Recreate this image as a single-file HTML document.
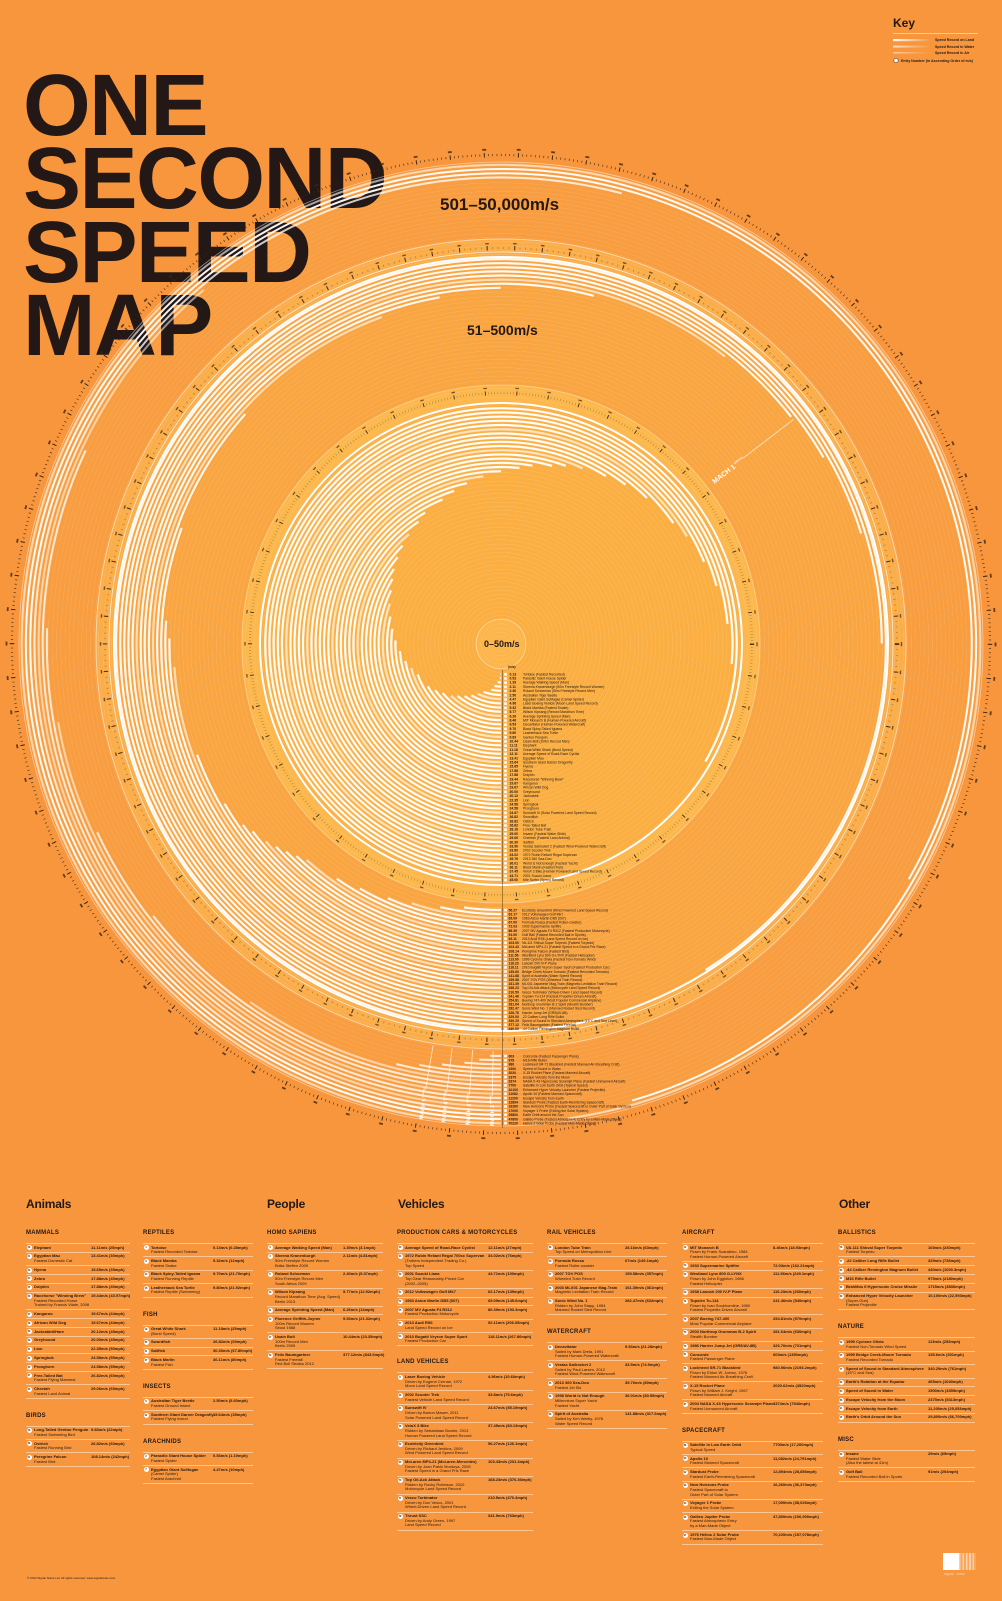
<!DOCTYPE html>
<html><head><meta charset="utf-8">
<style>
body{margin:0;width:1002px;height:1601px;background:#F7963D;position:relative;overflow:hidden;font-family:"Liberation Sans",Arial,sans-serif;color:#231815}
svg{position:absolute;left:0;top:0}
.H{position:absolute;top:1198px;font-weight:bold;font-size:12px;line-height:12px;letter-spacing:-0.2px}
.col{position:absolute;top:1228px}
.h2{font-weight:bold;font-size:6px;line-height:10px;height:10px;margin-bottom:5px;letter-spacing:0.25px;white-space:nowrap}
.m{margin-top:12px}
.sec{border-bottom:0.7px solid rgba(255,255,255,.45)}
.r{position:relative;border-top:0.7px solid rgba(255,255,255,.45);font-size:4px;line-height:4.6px;padding:1.6px 40px 1.6px 8px;white-space:nowrap}
.r i{position:absolute;left:0.5px;top:1.4px;width:5px;height:5px;border-radius:50%;background:#fff;font-style:normal;font-weight:bold;font-size:2.4px;line-height:5px;text-align:center;color:#231815}
.r b{display:block}
.r em{position:absolute;top:1.6px;font-style:normal;font-weight:bold}
.a1{left:26px;width:104px}.a1 em{left:65px}
.a2{left:143px;width:110px}.a2 em{left:70px}
.pp{left:267px;width:116px}.pp em{left:76px}
.v1{left:397px;width:136px}.v1 em{left:91px}
.v2{left:547px;width:120px}.v2 em{left:78px}
.v3{left:682px;width:141px}.v3 em{left:91px}
.oo{left:838px;width:137px}.oo em{left:90px}
.kt{position:absolute;left:935px;font-size:3.6px;font-weight:bold;line-height:4px;white-space:nowrap}
</style></head><body>

<svg width="1002" height="1601" viewBox="0 0 1002 1601">
<defs>
<radialGradient id="fl" gradientUnits="userSpaceOnUse" cx="501" cy="644" r="4.2" spreadMethod="repeat">
<stop offset="0" stop-color="#fff" stop-opacity="0"/>
<stop offset="0.72" stop-color="#fff" stop-opacity="0"/>
<stop offset="0.8" stop-color="#fff" stop-opacity="0.22"/>
<stop offset="0.88" stop-color="#fff" stop-opacity="0"/>
<stop offset="1" stop-color="#fff" stop-opacity="0"/>
</radialGradient>
<linearGradient id="kg" x1="0" x2="1" y1="0" y2="0"><stop offset="0" stop-color="#fff"/><stop offset="1" stop-color="#fff" stop-opacity="0"/></linearGradient>
</defs>

<g transform="translate(501 644)">
<circle r="481" fill="#F89D40"/>
<circle r="405" fill="#FAAD48"/>
<circle r="388" fill="#F9A542"/>
<circle r="259" fill="#FCB84C"/>
<circle r="243" fill="#FBAF43"/>
<circle r="25" fill="#FCB64B"/>
</g>
<circle cx="501" cy="644" r="480" fill="url(#fl)"/>

<g font-family="Liberation Sans, Arial, sans-serif" font-weight="bold" font-size="87" letter-spacing="-1.5" fill="#231815">
<text x="23" y="135">ONE</text>
<text x="23" y="208">SECOND</text>
<text x="23" y="282">SPEED</text>
<text x="23" y="355">MAP</text>
</g>

<!-- structural white circles -->
<g transform="translate(501 644)" fill="none" stroke="#fff">
<circle r="241" stroke-width="2"/>
<circle r="387" stroke-width="2"/>
<circle r="392" stroke-width="0.8" opacity=".8"/>
<circle r="405" stroke-width="1" opacity=".55"/>
<circle r="482" stroke-width="0.8" opacity=".5"/>
<circle r="25" stroke-width="0.6" opacity=".6"/>
<circle r="259" stroke-width="0.6" opacity=".5"/>
</g>

<!-- inner arcs: start at 6 o'clock, clockwise -->
<g transform="translate(501 644)" fill="none" stroke="#fff" stroke-width="2.2" stroke-opacity=".95">
<path pathLength="360" stroke-dasharray="1 999" d="M0 30A30 30 0 1 1 0 -30A30 30 0 1 1 0 30"/>
<path pathLength="360" stroke-dasharray="2 999" d="M0 34.2A34.2 34.2 0 1 1 0 -34.2A34.2 34.2 0 1 1 0 34.2"/>
<path pathLength="360" stroke-dasharray="5 999" d="M0 38.4A38.4 38.4 0 1 1 0 -38.4A38.4 38.4 0 1 1 0 38.4"/>
<path pathLength="360" stroke-dasharray="9 999" d="M0 42.6A42.6 42.6 0 1 1 0 -42.6A42.6 42.6 0 1 1 0 42.6"/>
<path pathLength="360" stroke-dasharray="12 999" d="M0 46.8A46.8 46.8 0 1 1 0 -46.8A46.8 46.8 0 1 1 0 46.8"/>
<path pathLength="360" stroke-dasharray="20 999" d="M0 51A51 51 0 1 1 0 -51A51 51 0 1 1 0 51"/>
<path pathLength="360" stroke-dasharray="25 999" stroke-opacity=".65" d="M0 55.2A55.2 55.2 0 1 1 0 -55.2A55.2 55.2 0 1 1 0 55.2"/>
<path pathLength="360" stroke-dasharray="30 999" d="M0 59.4A59.4 59.4 0 1 1 0 -59.4A59.4 59.4 0 1 1 0 59.4"/>
<path pathLength="360" stroke-dasharray="35 999" d="M0 63.6A63.6 63.6 0 1 1 0 -63.6A63.6 63.6 0 1 1 0 63.6"/>
<path pathLength="360" stroke-dasharray="40 999" d="M0 67.8A67.8 67.8 0 1 1 0 -67.8A67.8 67.8 0 1 1 0 67.8"/>
<path pathLength="360" stroke-dasharray="44 999" stroke-opacity=".65" d="M0 72A72 72 0 1 1 0 -72A72 72 0 1 1 0 72"/>
<path pathLength="360" stroke-dasharray="50 999" d="M0 76.2A76.2 76.2 0 1 1 0 -76.2A76.2 76.2 0 1 1 0 76.2"/>
<path pathLength="360" stroke-dasharray="55 999" d="M0 80.4A80.4 80.4 0 1 1 0 -80.4A80.4 80.4 0 1 1 0 80.4"/>
<path pathLength="360" stroke-dasharray="60 999" d="M0 84.6A84.6 84.6 0 1 1 0 -84.6A84.6 84.6 0 1 1 0 84.6"/>
<path pathLength="360" stroke-dasharray="70 999" d="M0 88.8A88.8 88.8 0 1 1 0 -88.8A88.8 88.8 0 1 1 0 88.8"/>
<path pathLength="360" stroke-dasharray="75 999" stroke-opacity=".65" d="M0 93A93 93 0 1 1 0 -93A93 93 0 1 1 0 93"/>
<path pathLength="360" stroke-dasharray="80 999" d="M0 97.2A97.2 97.2 0 1 1 0 -97.2A97.2 97.2 0 1 1 0 97.2"/>
<path pathLength="360" stroke-dasharray="86 999" d="M0 101.4A101.4 101.4 0 1 1 0 -101.4A101.4 101.4 0 1 1 0 101.4"/>
<path pathLength="360" stroke-dasharray="92 999" d="M0 105.6A105.6 105.6 0 1 1 0 -105.6A105.6 105.6 0 1 1 0 105.6"/>
<path pathLength="360" stroke-dasharray="98 999" d="M0 109.8A109.8 109.8 0 1 1 0 -109.8A109.8 109.8 0 1 1 0 109.8"/>
<path pathLength="360" stroke-dasharray="104 999" d="M0 114A114 114 0 1 1 0 -114A114 114 0 1 1 0 114"/>
<path pathLength="360" stroke-dasharray="110 999" stroke-opacity=".65" d="M0 118.2A118.2 118.2 0 1 1 0 -118.2A118.2 118.2 0 1 1 0 118.2"/>
<path pathLength="360" stroke-dasharray="116 999" d="M0 122.4A122.4 122.4 0 1 1 0 -122.4A122.4 122.4 0 1 1 0 122.4"/>
<path pathLength="360" stroke-dasharray="121 999" d="M0 126.6A126.6 126.6 0 1 1 0 -126.6A126.6 126.6 0 1 1 0 126.6"/>
<path pathLength="360" stroke-dasharray="125 999" d="M0 130.8A130.8 130.8 0 1 1 0 -130.8A130.8 130.8 0 1 1 0 130.8"/>
<path pathLength="360" stroke-dasharray="130 999" d="M0 135A135 135 0 1 1 0 -135A135 135 0 1 1 0 135"/>
<path pathLength="360" stroke-dasharray="135 999" d="M0 139.2A139.2 139.2 0 1 1 0 -139.2A139.2 139.2 0 1 1 0 139.2"/>
<path pathLength="360" stroke-dasharray="140 999" stroke-opacity=".65" d="M0 143.4A143.4 143.4 0 1 1 0 -143.4A143.4 143.4 0 1 1 0 143.4"/>
<path pathLength="360" stroke-dasharray="146 999" d="M0 147.6A147.6 147.6 0 1 1 0 -147.6A147.6 147.6 0 1 1 0 147.6"/>
<path pathLength="360" stroke-dasharray="150 999" d="M0 151.8A151.8 151.8 0 1 1 0 -151.8A151.8 151.8 0 1 1 0 151.8"/>
<path pathLength="360" stroke-dasharray="158 999" d="M0 156A156 156 0 1 1 0 -156A156 156 0 1 1 0 156"/>
<path pathLength="360" stroke-dasharray="163 999" d="M0 160.2A160.2 160.2 0 1 1 0 -160.2A160.2 160.2 0 1 1 0 160.2"/>
<path pathLength="360" stroke-dasharray="168 999" d="M0 164.4A164.4 164.4 0 1 1 0 -164.4A164.4 164.4 0 1 1 0 164.4"/>
<path pathLength="360" stroke-dasharray="174 999" stroke-opacity=".65" d="M0 168.6A168.6 168.6 0 1 1 0 -168.6A168.6 168.6 0 1 1 0 168.6"/>
<path pathLength="360" stroke-dasharray="180 999" d="M0 172.8A172.8 172.8 0 1 1 0 -172.8A172.8 172.8 0 1 1 0 172.8"/>
<path pathLength="360" stroke-dasharray="186 999" d="M0 177A177 177 0 1 1 0 -177A177 177 0 1 1 0 177"/>
<path pathLength="360" stroke-dasharray="190 999" d="M0 181.2A181.2 181.2 0 1 1 0 -181.2A181.2 181.2 0 1 1 0 181.2"/>
<path pathLength="360" stroke-dasharray="196 999" d="M0 185.4A185.4 185.4 0 1 1 0 -185.4A185.4 185.4 0 1 1 0 185.4"/>
<path pathLength="360" stroke-dasharray="200 999" d="M0 189.6A189.6 189.6 0 1 1 0 -189.6A189.6 189.6 0 1 1 0 189.6"/>
<path pathLength="360" stroke-dasharray="205 999" stroke-opacity=".65" d="M0 193.8A193.8 193.8 0 1 1 0 -193.8A193.8 193.8 0 1 1 0 193.8"/>
<path pathLength="360" stroke-dasharray="212 999" d="M0 198A198 198 0 1 1 0 -198A198 198 0 1 1 0 198"/>
<path pathLength="360" stroke-dasharray="218 999" d="M0 202.2A202.2 202.2 0 1 1 0 -202.2A202.2 202.2 0 1 1 0 202.2"/>
<path pathLength="360" stroke-dasharray="225 999" d="M0 206.4A206.4 206.4 0 1 1 0 -206.4A206.4 206.4 0 1 1 0 206.4"/>
<path pathLength="360" stroke-dasharray="235 999" d="M0 210.6A210.6 210.6 0 1 1 0 -210.6A210.6 210.6 0 1 1 0 210.6"/>
<path pathLength="360" stroke-dasharray="240 999" stroke-opacity=".65" d="M0 214.8A214.8 214.8 0 1 1 0 -214.8A214.8 214.8 0 1 1 0 214.8"/>
<path pathLength="360" stroke-dasharray="248 999" d="M0 219A219 219 0 1 1 0 -219A219 219 0 1 1 0 219"/>
<path pathLength="360" stroke-dasharray="255 999" d="M0 223.2A223.2 223.2 0 1 1 0 -223.2A223.2 223.2 0 1 1 0 223.2"/>
<path pathLength="360" stroke-dasharray="265 999" d="M0 227.4A227.4 227.4 0 1 1 0 -227.4A227.4 227.4 0 1 1 0 227.4"/>
<path pathLength="360" stroke-dasharray="275 999" d="M0 231.6A231.6 231.6 0 1 1 0 -231.6A231.6 231.6 0 1 1 0 231.6"/>
<path pathLength="360" stroke-dasharray="300 999" d="M0 235.8A235.8 235.8 0 1 1 0 -235.8A235.8 235.8 0 1 1 0 235.8"/>
</g>

<!-- middle arcs -->
<g transform="translate(501 644)" fill="none" stroke="#fff" stroke-width="2.2" stroke-opacity=".92">
<path pathLength="360" stroke-dasharray="8 999" d="M0 266A266 266 0 1 1 0 -266A266 266 0 1 1 0 266"/>
<path pathLength="360" stroke-dasharray="13 999" d="M0 270.1A270.1 270.1 0 1 1 0 -270.1A270.1 270.1 0 1 1 0 270.1"/>
<path pathLength="360" stroke-dasharray="19 999" stroke-opacity=".6" d="M0 274.2A274.2 274.2 0 1 1 0 -274.2A274.2 274.2 0 1 1 0 274.2"/>
<path pathLength="360" stroke-dasharray="24 999" d="M0 278.3A278.3 278.3 0 1 1 0 -278.3A278.3 278.3 0 1 1 0 278.3"/>
<path pathLength="360" stroke-dasharray="30 999" d="M0 282.4A282.4 282.4 0 1 1 0 -282.4A282.4 282.4 0 1 1 0 282.4"/>
<path pathLength="360" stroke-dasharray="35 999" d="M0 286.5A286.5 286.5 0 1 1 0 -286.5A286.5 286.5 0 1 1 0 286.5"/>
<path pathLength="360" stroke-dasharray="42 999" stroke-opacity=".6" d="M0 290.6A290.6 290.6 0 1 1 0 -290.6A290.6 290.6 0 1 1 0 290.6"/>
<path pathLength="360" stroke-dasharray="44 999" d="M0 294.7A294.7 294.7 0 1 1 0 -294.7A294.7 294.7 0 1 1 0 294.7"/>
<path pathLength="360" stroke-dasharray="46 999" d="M0 298.8A298.8 298.8 0 1 1 0 -298.8A298.8 298.8 0 1 1 0 298.8"/>
<path pathLength="360" stroke-dasharray="48 999" d="M0 302.9A302.9 302.9 0 1 1 0 -302.9A302.9 302.9 0 1 1 0 302.9"/>
<path pathLength="360" stroke-dasharray="50 999" stroke-opacity=".6" d="M0 307A307 307 0 1 1 0 -307A307 307 0 1 1 0 307"/>
<path pathLength="360" stroke-dasharray="53 999" d="M0 311.1A311.1 311.1 0 1 1 0 -311.1A311.1 311.1 0 1 1 0 311.1"/>
<path pathLength="360" stroke-dasharray="55 999" d="M0 315.2A315.2 315.2 0 1 1 0 -315.2A315.2 315.2 0 1 1 0 315.2"/>
<path pathLength="360" stroke-dasharray="60 999" d="M0 319.3A319.3 319.3 0 1 1 0 -319.3A319.3 319.3 0 1 1 0 319.3"/>
<path pathLength="360" stroke-dasharray="70 999" d="M0 323.4A323.4 323.4 0 1 1 0 -323.4A323.4 323.4 0 1 1 0 323.4"/>
<path pathLength="360" stroke-dasharray="86 999" stroke-opacity=".6" d="M0 327.5A327.5 327.5 0 1 1 0 -327.5A327.5 327.5 0 1 1 0 327.5"/>
<path pathLength="360" stroke-dasharray="91 999" d="M0 331.6A331.6 331.6 0 1 1 0 -331.6A331.6 331.6 0 1 1 0 331.6"/>
<path pathLength="360" stroke-dasharray="94 999" d="M0 335.7A335.7 335.7 0 1 1 0 -335.7A335.7 335.7 0 1 1 0 335.7"/>
<path pathLength="360" stroke-dasharray="110 999" d="M0 339.8A339.8 339.8 0 1 1 0 -339.8A339.8 339.8 0 1 1 0 339.8"/>
<path pathLength="360" stroke-dasharray="132 999" d="M0 343.9A343.9 343.9 0 1 1 0 -343.9A343.9 343.9 0 1 1 0 343.9"/>
<path pathLength="360" stroke-dasharray="160 999" stroke-opacity=".6" d="M0 348A348 348 0 1 1 0 -348A348 348 0 1 1 0 348"/>
<path pathLength="360" stroke-dasharray="170 999" d="M0 352.1A352.1 352.1 0 1 1 0 -352.1A352.1 352.1 0 1 1 0 352.1"/>
<path pathLength="360" stroke-dasharray="180 999" d="M0 356.2A356.2 356.2 0 1 1 0 -356.2A356.2 356.2 0 1 1 0 356.2"/>
<path pathLength="360" stroke-dasharray="195 999" d="M0 360.3A360.3 360.3 0 1 1 0 -360.3A360.3 360.3 0 1 1 0 360.3"/>
<path pathLength="360" stroke-dasharray="218 999" stroke-opacity=".6" d="M0 364.4A364.4 364.4 0 1 1 0 -364.4A364.4 364.4 0 1 1 0 364.4"/>
<path pathLength="360" stroke-dasharray="232 999" d="M0 368.5A368.5 368.5 0 1 1 0 -368.5A368.5 368.5 0 1 1 0 368.5"/>
<path pathLength="360" stroke-dasharray="240 999" d="M0 372.6A372.6 372.6 0 1 1 0 -372.6A372.6 372.6 0 1 1 0 372.6"/>
<path pathLength="360" stroke-dasharray="253 999" d="M0 376.7A376.7 376.7 0 1 1 0 -376.7A376.7 376.7 0 1 1 0 376.7"/>
<path pathLength="360" stroke-dasharray="270 999" d="M0 380.8A380.8 380.8 0 1 1 0 -380.8A380.8 380.8 0 1 1 0 380.8"/>
<path pathLength="360" stroke-dasharray="328 999" d="M0 384.9A384.9 384.9 0 1 1 0 -384.9A384.9 384.9 0 1 1 0 384.9"/>
</g>

<!-- outer arcs -->
<g transform="translate(501 644)" fill="none" stroke="#fff" stroke-width="2" stroke-opacity=".78">
<path pathLength="360" stroke-dasharray="1.5 999" d="M0 412A412 412 0 1 1 0 -412A412 412 0 1 1 0 412"/>
<path pathLength="360" stroke-dasharray="3 999" d="M0 416.2A416.2 416.2 0 1 1 0 -416.2A416.2 416.2 0 1 1 0 416.2"/>
<path pathLength="360" stroke-dasharray="5 999" d="M0 420.4A420.4 420.4 0 1 1 0 -420.4A420.4 420.4 0 1 1 0 420.4"/>
<path pathLength="360" stroke-dasharray="8 999" d="M0 424.6A424.6 424.6 0 1 1 0 -424.6A424.6 424.6 0 1 1 0 424.6"/>
<path pathLength="360" stroke-dasharray="11 999" d="M0 428.8A428.8 428.8 0 1 1 0 -428.8A428.8 428.8 0 1 1 0 428.8"/>
<path pathLength="360" stroke-dasharray="14 999" d="M0 433A433 433 0 1 1 0 -433A433 433 0 1 1 0 433"/>
<path pathLength="360" stroke-dasharray="35 999" stroke-opacity=".55" d="M0 437.2A437.2 437.2 0 1 1 0 -437.2A437.2 437.2 0 1 1 0 437.2"/>
<path pathLength="360" stroke-dasharray="52 999" d="M0 441.4A441.4 441.4 0 1 1 0 -441.4A441.4 441.4 0 1 1 0 441.4"/>
<path pathLength="360" stroke-dasharray="65 999" d="M0 445.6A445.6 445.6 0 1 1 0 -445.6A445.6 445.6 0 1 1 0 445.6"/>
<path pathLength="360" stroke-dasharray="80 999" stroke-opacity=".55" d="M0 449.8A449.8 449.8 0 1 1 0 -449.8A449.8 449.8 0 1 1 0 449.8"/>
<path pathLength="360" stroke-dasharray="92 999" d="M0 454A454 454 0 1 1 0 -454A454 454 0 1 1 0 454"/>
<path pathLength="360" stroke-dasharray="115 999" d="M0 458.2A458.2 458.2 0 1 1 0 -458.2A458.2 458.2 0 1 1 0 458.2"/>
<path pathLength="360" stroke-dasharray="140 999" stroke-opacity=".55" d="M0 462.4A462.4 462.4 0 1 1 0 -462.4A462.4 462.4 0 1 1 0 462.4"/>
<path pathLength="360" stroke-dasharray="195 999" d="M0 466.6A466.6 466.6 0 1 1 0 -466.6A466.6 466.6 0 1 1 0 466.6"/>
<path pathLength="360" stroke-dasharray="300 999" stroke-opacity=".95" d="M0 470.8A470.8 470.8 0 1 1 0 -470.8A470.8 470.8 0 1 1 0 470.8"/>
<path pathLength="360" stroke-dasharray="344 999" stroke-opacity=".95" d="M0 475A475 475 0 1 1 0 -475A475 475 0 1 1 0 475"/>
<path pathLength="360" stroke-dasharray="352 999" stroke-opacity=".6" d="M0 479.2A479.2 479.2 0 1 1 0 -479.2A479.2 479.2 0 1 1 0 479.2"/>
</g>

<!-- ticks -->
<g transform="translate(501 644)" fill="none">
<circle r="251" stroke="#7b5628" stroke-width="2" pathLength="360" stroke-dasharray="0.12 0.6" opacity=".7"/>
<circle r="251" stroke="#4e321a" stroke-width="4" pathLength="360" stroke-dasharray="0.22 6.98"/>
<circle r="256" stroke="#4e321a" stroke-width="1.3" pathLength="360" stroke-dasharray="0.8 6.4" stroke-dashoffset="0.29" opacity=".75"/>
<circle r="396" stroke="#7b5628" stroke-width="2" pathLength="360" stroke-dasharray="0.08 0.72" opacity=".7"/>
<circle r="396" stroke="#4e321a" stroke-width="4.5" pathLength="360" stroke-dasharray="0.15 3.85"/>
<circle r="400.5" stroke="#4e321a" stroke-width="1.4" pathLength="360" stroke-dasharray="0.5 3.5" stroke-dashoffset="0.175" opacity=".75"/>
<circle r="489" stroke="#3b2716" stroke-width="2.2" pathLength="360" stroke-dasharray="0.07 0.43"/>
<circle r="489" stroke="#3b2716" stroke-width="4.5" pathLength="360" stroke-dasharray="0.11 3.89"/>
<circle r="494.5" stroke="#3b2716" stroke-width="1.8" pathLength="360" stroke-dasharray="0.45 3.55" stroke-dashoffset="0.17" opacity=".8"/>
</g>

<!-- ring labels -->
<g font-family="Liberation Sans, Arial, sans-serif" font-weight="bold" fill="#231815">
<text x="440" y="210" font-size="17">501–50,000m/s</text>
<text x="467" y="335" font-size="14">51–500m/s</text>
<text x="484" y="647" font-size="9">0–50m/s</text>
</g>

<!-- Mach lines -->
<g stroke="#fff" stroke-width="0.8" stroke-opacity=".75">
<line x1="742.9" y1="458.3" x2="793.6" y2="419.3"/>
<line x1="493.2" y1="1050.9" x2="492.3" y2="1095.9"/>
<line x1="472.6" y1="1050" x2="469.4" y2="1094.9"/>
<line x1="452.1" y1="1048.1" x2="446.7" y2="1092.8"/>
<line x1="433.1" y1="1045.3" x2="425.6" y2="1089.7"/>
</g>
<g font-family="Liberation Sans, Arial, sans-serif" font-weight="bold" fill="#fff">
<g transform="translate(713 482) rotate(-37.5)"><text x="0" y="2.5" font-size="7">MACH 1</text><text x="28" y="-1" font-size="2.6">(343m/s)</text></g>
<g transform="translate(491.7 1125.9) rotate(-88.9)"><text x="0" y="2" font-size="5.5">MACH 2</text><text x="22" y="-1" font-size="2.2">(686m/s)</text></g>
<g transform="translate(467.4 1124.8) rotate(-86)"><text x="0" y="2" font-size="5.5">MACH 3</text><text x="22" y="-1" font-size="2.2">(1029m/s)</text></g>
<g transform="translate(443.1 1122.5) rotate(-83.1)"><text x="0" y="2" font-size="5.5">MACH 4</text><text x="22" y="-1" font-size="2.2">(1372m/s)</text></g>
<g transform="translate(420.6 1119.3) rotate(-80.4)"><text x="0" y="2" font-size="5.5">MACH 5</text><text x="22" y="-1" font-size="2.2">(1715m/s)</text></g>
</g>

<!-- list column -->
<line x1="502.5" y1="670" x2="502.5" y2="1128" stroke="#231815" stroke-width="0.4"/>
<line x1="505.5" y1="673" x2="505.5" y2="882" stroke="#fff" stroke-width="2.6" stroke-dasharray="2.6 1.6"/>
<line x1="505.5" y1="908.7" x2="505.5" y2="1032" stroke="#fff" stroke-width="2.6" stroke-dasharray="2.6 1.5"/>
<line x1="505.5" y1="1054.7" x2="505.5" y2="1126" stroke="#fff" stroke-width="2.6" stroke-dasharray="2.6 1.6"/>

<g font-family="Liberation Sans, Arial, sans-serif" font-size="3.4" fill="#231815">
<text x="508" y="668" font-weight="bold" font-size="3.2">(m/s)</text>
<text font-weight="bold"><tspan x="509.5" y="675.3">0.13</tspan><tspan x="509.5" dy="4.2">0.53</tspan><tspan x="509.5" dy="4.2">1.39</tspan><tspan x="509.5" dy="4.2">2.11</tspan><tspan x="509.5" dy="4.2">2.40</tspan><tspan x="509.5" dy="4.2">2.50</tspan><tspan x="509.5" dy="4.2">4.47</tspan><tspan x="509.5" dy="4.2">4.96</tspan><tspan x="509.5" dy="4.2">5.32</tspan><tspan x="509.5" dy="4.2">5.77</tspan><tspan x="509.5" dy="4.2">6.26</tspan><tspan x="509.5" dy="4.2">8.46</tspan><tspan x="509.5" dy="4.2">9.53</tspan><tspan x="509.5" dy="4.2">9.70</tspan><tspan x="509.5" dy="4.2">9.80</tspan><tspan x="509.5" dy="4.2">9.83</tspan><tspan x="509.5" dy="4.2">10.44</tspan><tspan x="509.5" dy="4.2">11.11</tspan><tspan x="509.5" dy="4.2">11.18</tspan><tspan x="509.5" dy="4.2">12.11</tspan><tspan x="509.5" dy="4.2">13.41</tspan><tspan x="509.5" dy="4.2">15.64</tspan><tspan x="509.5" dy="4.2">15.65</tspan><tspan x="509.5" dy="4.2">17.88</tspan><tspan x="509.5" dy="4.2">17.88</tspan><tspan x="509.5" dy="4.2">19.44</tspan><tspan x="509.5" dy="4.2">19.67</tspan><tspan x="509.5" dy="4.2">19.67</tspan><tspan x="509.5" dy="4.2">20.00</tspan><tspan x="509.5" dy="4.2">20.12</tspan><tspan x="509.5" dy="4.2">22.35</tspan><tspan x="509.5" dy="4.2">24.58</tspan><tspan x="509.5" dy="4.2">24.58</tspan><tspan x="509.5" dy="4.2">24.67</tspan><tspan x="509.5" dy="4.2">26.82</tspan><tspan x="509.5" dy="4.2">26.82</tspan><tspan x="509.5" dy="4.2">26.82</tspan><tspan x="509.5" dy="4.2">28.16</tspan><tspan x="509.5" dy="4.2">29.00</tspan><tspan x="509.5" dy="4.2">29.06</tspan><tspan x="509.5" dy="4.2">30.30</tspan><tspan x="509.5" dy="4.2">33.50</tspan><tspan x="509.5" dy="4.2">33.80</tspan><tspan x="509.5" dy="4.2">34.02</tspan><tspan x="509.5" dy="4.2">35.76</tspan><tspan x="509.5" dy="4.2">36.01</tspan><tspan x="509.5" dy="4.2">36.11</tspan><tspan x="509.5" dy="4.2">37.45</tspan><tspan x="509.5" dy="4.2">44.71</tspan><tspan x="509.5" dy="4.2">45.00</tspan></text>
<text><tspan x="523" y="675.3">Tortoise (Fastest Recorded)</tspan><tspan x="523" dy="4.2">Parasitic Giant House Spider</tspan><tspan x="523" dy="4.2">Average Walking Speed (Man)</tspan><tspan x="523" dy="4.2">Sheena Kranenburgh (50m Freestyle Record Women)</tspan><tspan x="523" dy="4.2">Roland Schoeman (50m Freestyle Record Men)</tspan><tspan x="523" dy="4.2">Australian Tiger Beetle</tspan><tspan x="523" dy="4.2">Egyptian Giant Solifugae (Camel Spider)</tspan><tspan x="523" dy="4.2">Laser Boeing Vehicle (Moon Land Speed Record)</tspan><tspan x="523" dy="4.2">Black Mamba (Fastest Snake)</tspan><tspan x="523" dy="4.2">Wilson Kipsang (Record Marathon Time)</tspan><tspan x="523" dy="4.2">Average Sprinting Speed (Man)</tspan><tspan x="523" dy="4.2">MIT Monarch B (Human-Powered Aircraft)</tspan><tspan x="523" dy="4.2">Decavitator (Human-Powered Watercraft)</tspan><tspan x="523" dy="4.2">Black Spiny-Tailed Iguana</tspan><tspan x="523" dy="4.2">Leatherback Sea Turtle</tspan><tspan x="523" dy="4.2">Gentoo Penguin</tspan><tspan x="523" dy="4.2">Usain Bolt (100m Record Men)</tspan><tspan x="523" dy="4.2">Elephant</tspan><tspan x="523" dy="4.2">Great White Shark (Burst Speed)</tspan><tspan x="523" dy="4.2">Average Speed of Road-Race Cyclist</tspan><tspan x="523" dy="4.2">Egyptian Mau</tspan><tspan x="523" dy="4.2">Southern Giant Darner Dragonfly</tspan><tspan x="523" dy="4.2">Hyena</tspan><tspan x="523" dy="4.2">Zebra</tspan><tspan x="523" dy="4.2">Dolphin</tspan><tspan x="523" dy="4.2">Racehorse "Winning Brew"</tspan><tspan x="523" dy="4.2">Kangaroo</tspan><tspan x="523" dy="4.2">African Wild Dog</tspan><tspan x="523" dy="4.2">Greyhound</tspan><tspan x="523" dy="4.2">Jackrabbit</tspan><tspan x="523" dy="4.2">Lion</tspan><tspan x="523" dy="4.2">Springbok</tspan><tspan x="523" dy="4.2">Pronghorn</tspan><tspan x="523" dy="4.2">Sunswift IV (Solar Powered Land Speed Record)</tspan><tspan x="523" dy="4.2">Swordfish</tspan><tspan x="523" dy="4.2">Ostrich</tspan><tspan x="523" dy="4.2">Free-Tailed Bat</tspan><tspan x="523" dy="4.2">London Tube Train</tspan><tspan x="523" dy="4.2">Insane (Fastest Water Slide)</tspan><tspan x="523" dy="4.2">Cheetah (Fastest Land Animal)</tspan><tspan x="523" dy="4.2">Sailfish</tspan><tspan x="523" dy="4.2">Vestas Sailrocket 2 (Fastest Wind-Powered Watercraft)</tspan><tspan x="523" dy="4.2">2002 Scooter Trek</tspan><tspan x="523" dy="4.2">1972 Robin Reliant Regal Supervan</tspan><tspan x="523" dy="4.2">2013 360 Sea-Doo</tspan><tspan x="523" dy="4.2">World is Not Enough (Fastest Yacht)</tspan><tspan x="523" dy="4.2">Black Marlin (Fastest Fish)</tspan><tspan x="523" dy="4.2">VeloX 3 Bike (Human Powered Land Speed Record)</tspan><tspan x="523" dy="4.2">2001 Suzuki Liana</tspan><tspan x="523" dy="4.2">Kite Surfer (Speed Record)</tspan></text>

<text font-weight="bold"><tspan x="508.5" y="911.3">56.27</tspan><tspan x="508.5" dy="4.1">62.17</tspan><tspan x="508.5" dy="4.1">65.09</tspan><tspan x="508.5" dy="4.1">67.00</tspan><tspan x="508.5" dy="4.1">72.03</tspan><tspan x="508.5" dy="4.1">86.39</tspan><tspan x="508.5" dy="4.1">91.00</tspan><tspan x="508.5" dy="4.1">92.11</tspan><tspan x="508.5" dy="4.1">103.00</tspan><tspan x="508.5" dy="4.1">103.43</tspan><tspan x="508.5" dy="4.1">108.14</tspan><tspan x="508.5" dy="4.1">111.56</tspan><tspan x="508.5" dy="4.1">113.00</tspan><tspan x="508.5" dy="4.1">116.23</tspan><tspan x="508.5" dy="4.1">118.11</tspan><tspan x="508.5" dy="4.1">135.60</tspan><tspan x="508.5" dy="4.1">141.88</tspan><tspan x="508.5" dy="4.1">159.58</tspan><tspan x="508.5" dy="4.1">161.39</tspan><tspan x="508.5" dy="4.1">168.23</tspan><tspan x="508.5" dy="4.1">210.50</tspan><tspan x="508.5" dy="4.1">241.46</tspan><tspan x="508.5" dy="4.1">254.81</tspan><tspan x="508.5" dy="4.1">281.64</tspan><tspan x="508.5" dy="4.1">282.47</tspan><tspan x="508.5" dy="4.1">326.76</tspan><tspan x="508.5" dy="4.1">329.00</tspan><tspan x="508.5" dy="4.1">340.29</tspan><tspan x="508.5" dy="4.1">377.12</tspan><tspan x="508.5" dy="4.1">440.00</tspan></text>
<text><tspan x="522" y="911.3">Ecotricity Greenbird (Wind Powered Land Speed Record)</tspan><tspan x="522" dy="4.1">2012 Volkswagen Golf Mk7</tspan><tspan x="522" dy="4.1">1963 Aston Martin DB5 (007)</tspan><tspan x="522" dy="4.1">Formula Rossa (Fastest Roller-coaster)</tspan><tspan x="522" dy="4.1">1933 Supermarine Spitfire</tspan><tspan x="522" dy="4.1">2007 MV Agusta F4 R312 (Fastest Production Motorcycle)</tspan><tspan x="522" dy="4.1">Golf Ball (Fastest Recorded Ball in Sports)</tspan><tspan x="522" dy="4.1">2013 Audi RS6 (Land Speed Record on Ice)</tspan><tspan x="522" dy="4.1">VA-111 Shkval Super Torpedo (Fastest Torpedo)</tspan><tspan x="522" dy="4.1">McLaren MP4-21 (Fastest Speed in a Grand Prix Race)</tspan><tspan x="522" dy="4.1">Peregrine Falcon (Fastest Bird)</tspan><tspan x="522" dy="4.1">Westland Lynx 800 G-LYNX (Fastest Helicopter)</tspan><tspan x="522" dy="4.1">1999 Cyclone Olivia (Fastest Non-Tornado Wind)</tspan><tspan x="522" dy="4.1">Lancair 200 IV-P Plane</tspan><tspan x="522" dy="4.1">2010 Bugatti Veyron Super Sport (Fastest Production Car)</tspan><tspan x="522" dy="4.1">Bridge Creek-Moore Tornado (Fastest Recorded Tornado)</tspan><tspan x="522" dy="4.1">Spirit of Australia (Water Speed Record)</tspan><tspan x="522" dy="4.1">2007 TGV POS (Wheeled Train Record)</tspan><tspan x="522" dy="4.1">MLX01 Japanese Mag-Train (Magnetic Levitation Train Record)</tspan><tspan x="522" dy="4.1">Top Oil-Ack Attack (Motorcycle Land Speed Record)</tspan><tspan x="522" dy="4.1">Vesco Turbinator (Wheel-Driven Land Speed Record)</tspan><tspan x="522" dy="4.1">Tupolev Tu-114 (Fastest Propeller-Driven Aircraft)</tspan><tspan x="522" dy="4.1">Boeing 747-400 (Most Popular Commercial Airplane)</tspan><tspan x="522" dy="4.1">Northrop Grumman B-2 Spirit (Stealth Bomber)</tspan><tspan x="522" dy="4.1">Sonic Wind No. 1 (Manned Rocket Sled Record)</tspan><tspan x="522" dy="4.1">Harrier Jump Jet (GR5/AV-8B)</tspan><tspan x="522" dy="4.1">.22 Caliber Long Rifle Bullet</tspan><tspan x="522" dy="4.1">Speed of Sound in Standard Atmosphere (15°C and Sea Level)</tspan><tspan x="522" dy="4.1">Felix Baumgartner (Fastest Freefall)</tspan><tspan x="522" dy="4.1">.44 Caliber Remington Magnum Bullet</tspan></text>

<text font-weight="bold"><tspan x="508.5" y="1057.3">603</tspan><tspan x="508.5" dy="4.2">975</tspan><tspan x="508.5" dy="4.2">980</tspan><tspan x="508.5" dy="4.2">1500</tspan><tspan x="508.5" dy="4.2">2020</tspan><tspan x="508.5" dy="4.2">2375</tspan><tspan x="508.5" dy="4.2">3374</tspan><tspan x="508.5" dy="4.2">7700</tspan><tspan x="508.5" dy="4.2">10100</tspan><tspan x="508.5" dy="4.2">11082</tspan><tspan x="508.5" dy="4.2">11200</tspan><tspan x="508.5" dy="4.2">12894</tspan><tspan x="508.5" dy="4.2">16260</tspan><tspan x="508.5" dy="4.2">17000</tspan><tspan x="508.5" dy="4.2">29800</tspan><tspan x="508.5" dy="4.2">47800</tspan><tspan x="508.5" dy="4.2">70220</tspan></text>
<text><tspan x="523" y="1057.3">Concorde (Fastest Passenger Plane)</tspan><tspan x="523" dy="4.2">M16 Rifle Bullet</tspan><tspan x="523" dy="4.2">Lockheed SR-71 Blackbird (Fastest Manned Air-Breathing Craft)</tspan><tspan x="523" dy="4.2">Speed of Sound in Water</tspan><tspan x="523" dy="4.2">X-15 Rocket Plane (Fastest Manned Aircraft)</tspan><tspan x="523" dy="4.2">Escape Velocity from the Moon</tspan><tspan x="523" dy="4.2">NASA X-43 Hypersonic Scramjet Plane (Fastest Unmanned Aircraft)</tspan><tspan x="523" dy="4.2">Satellite in Low Earth Orbit (Typical Speed)</tspan><tspan x="523" dy="4.2">Enhanced Hyper Velocity Launcher (Fastest Projectile)</tspan><tspan x="523" dy="4.2">Apollo 10 (Fastest Manned Spacecraft)</tspan><tspan x="523" dy="4.2">Escape Velocity from Earth</tspan><tspan x="523" dy="4.2">Stardust Probe (Fastest Earth-Reentering Spacecraft)</tspan><tspan x="523" dy="4.2">New Horizons Probe (Fastest Spacecraft to Outer Part of Solar System)</tspan><tspan x="523" dy="4.2">Voyager 1 Probe (Exiting the Solar System)</tspan><tspan x="523" dy="4.2">Earth Orbit around the Sun</tspan><tspan x="523" dy="4.2">Galileo Probe (Fastest Atmospheric Entry by a Man-Made Object)</tspan><tspan x="523" dy="4.2">Helios 2 Solar Probe (Fastest Man-Made Object)</tspan></text>
</g>

<!-- key lines -->
<rect x="893" y="39" width="38" height="2.2" fill="url(#kg)"/>
<rect x="893" y="45.6" width="38" height="2" fill="url(#kg)" opacity=".7"/>
<rect x="893" y="52" width="38" height="1.6" fill="url(#kg)" opacity=".5"/>
<circle cx="896" cy="60.5" r="2.2" fill="#fff" stroke="#231815" stroke-width=".5"/>
</svg>

<!-- Key -->
<div style="position:absolute;left:893px;top:17px;font-weight:bold;font-size:12px;line-height:12px">Key</div>
<div style="position:absolute;left:893px;top:33px;width:85px;border-top:0.6px solid rgba(255,255,255,.5)"></div>
<div class="kt" style="top:38px">Speed Record on Land</div>
<div class="kt" style="top:44.5px">Speed Record in Water</div>
<div class="kt" style="top:50.8px">Speed Record in Air</div>
<div class="kt" style="top:58.5px;left:901px">Entry Number (in Ascending Order of m/s)</div>

<!-- Section headings -->
<div class="H" style="left:26px">Animals</div>
<div class="H" style="left:267px">People</div>
<div class="H" style="left:398px">Vehicles</div>
<div class="H" style="left:839px">Other</div>

<div class="col a1">
<div class="h2">MAMMALS</div>
<div class="sec">
<div class="r"><i>18</i><b>Elephant</b><em>11.11m/s (25mph)</em></div>
<div class="r"><i>21</i><b>Egyptian Mau</b>Fastest Domestic Cat<em>13.41m/s (30mph)</em></div>
<div class="r"><i>23</i><b>Hyena</b><em>15.65m/s (35mph)</em></div>
<div class="r"><i>24</i><b>Zebra</b><em>17.88m/s (40mph)</em></div>
<div class="r"><i>25</i><b>Dolphin</b><em>17.88m/s (40mph)</em></div>
<div class="r"><i>26</i><b>Racehorse "Winning Brew"</b>Fastest Recorded Horse<br>Trained by Francis Vitale, 2008<em>19.44m/s (43.97mph)</em></div>
<div class="r"><i>27</i><b>Kangaroo</b><em>19.67m/s (44mph)</em></div>
<div class="r"><i>28</i><b>African Wild Dog</b><em>19.67m/s (44mph)</em></div>
<div class="r"><i>30</i><b>Jackrabbit/Hare</b><em>20.12m/s (45mph)</em></div>
<div class="r"><i>29</i><b>Greyhound</b><em>20.00m/s (45mph)</em></div>
<div class="r"><i>31</i><b>Lion</b><em>22.35m/s (50mph)</em></div>
<div class="r"><i>32</i><b>Springbok</b><em>24.58m/s (55mph)</em></div>
<div class="r"><i>33</i><b>Pronghorn</b><em>24.58m/s (55mph)</em></div>
<div class="r"><i>37</i><b>Free-Tailed Bat</b>Fastest Flying Mammal<em>26.82m/s (60mph)</em></div>
<div class="r"><i>40</i><b>Cheetah</b>Fastest Land Animal<em>29.06m/s (65mph)</em></div>
</div>
<div class="h2 m">BIRDS</div>
<div class="sec">
<div class="r"><i>16</i><b>Long-Tailed Gentoo Penguin</b>Fastest Swimming Bird<em>9.83m/s (22mph)</em></div>
<div class="r"><i>36</i><b>Ostrich</b>Fastest Running Bird<em>26.82m/s (60mph)</em></div>
<div class="r"><i>61</i><b>Peregrine Falcon</b>Fastest Bird<em>108.14m/s (242mph)</em></div>
</div>
</div>

<div class="col a2">
<div class="h2">REPTILES</div>
<div class="sec">
<div class="r"><i>1</i><b>Tortoise</b>Fastest Recorded Tortoise<em>0.13m/s (0.28mph)</em></div>
<div class="r"><i>9</i><b>Black Mamba</b>Fastest Snake<em>5.32m/s (12mph)</em></div>
<div class="r"><i>14</i><b>Black Spiny-Tailed Iguana</b>Fastest Running Reptile<em>9.70m/s (21.70mph)</em></div>
<div class="r"><i>15</i><b>Leatherback Sea Turtle</b>Fastest Reptile (Swimming)<em>9.80m/s (21.92mph)</em></div>
</div>
<div class="h2 m">FISH</div>
<div class="sec">
<div class="r"><i>19</i><b>Great White Shark</b>(Burst Speed)<em>11.18m/s (25mph)</em></div>
<div class="r"><i>35</i><b>Swordfish</b><em>26.82m/s (60mph)</em></div>
<div class="r"><i>41</i><b>Sailfish</b><em>30.30m/s (67.80mph)</em></div>
<div class="r"><i>47</i><b>Black Marlin</b>Fastest Fish<em>36.11m/s (80mph)</em></div>
</div>
<div class="h2 m">INSECTS</div>
<div class="sec">
<div class="r"><i>6</i><b>Australian Tiger Beetle</b>Fastest Ground Insect<em>2.50m/s (5.60mph)</em></div>
<div class="r"><i>22</i><b>Southern Giant Darner Dragonfly</b>Fastest Flying Insect<em>15.64m/s (35mph)</em></div>
</div>
<div class="h2 m">ARACHNIDS</div>
<div class="sec">
<div class="r"><i>2</i><b>Parasitic Giant House Spider</b>Fastest Spider<em>0.53m/s (1.19mph)</em></div>
<div class="r"><i>7</i><b>Egyptian Giant Solifugae</b>(Camel Spider)<br>Fastest Arachnid<em>4.47m/s (10mph)</em></div>
</div>
</div>

<div class="col pp">
<div class="h2">HOMO SAPIENS</div>
<div class="sec">
<div class="r"><i>3</i><b>Average Walking Speed (Man)</b><em>1.39m/s (3.1mph)</em></div>
<div class="r"><i>4</i><b>Sheena Kranenburgh</b>50m Freestyle Record Women<br>Britta Steffen 2009<em>2.11m/s (4.81mph)</em></div>
<div class="r"><i>5</i><b>Roland Schoeman</b>50m Freestyle Record Men<br>South Africa 2009<em>2.40m/s (5.37mph)</em></div>
<div class="r"><i>10</i><b>Wilson Kipsang</b>Record Marathon Time (Avg. Speed)<br>Berlin 2013<em>5.77m/s (12.92mph)</em></div>
<div class="r"><i>11</i><b>Average Sprinting Speed (Man)</b><em>6.26m/s (14mph)</em></div>
<div class="r"><i>14</i><b>Florence Griffith-Joyner</b>100m Record Women<br>Seoul 1988<em>9.53m/s (21.32mph)</em></div>
<div class="r"><i>17</i><b>Usain Bolt</b>100m Record Men<br>Berlin 2009<em>10.44m/s (23.35mph)</em></div>
<div class="r"><i>79</i><b>Felix Baumgartner</b>Fastest Freefall<br>Red Bull Stratos 2012<em>377.12m/s (843.6mph)</em></div>
</div>
</div>

<div class="col v1">
<div class="h2">PRODUCTION CARS &amp; MOTORCYCLES</div>
<div class="sec">
<div class="r"><i>20</i><b>Average Speed of Road-Race Cyclist</b><em>12.11m/s (27mph)</em></div>
<div class="r"><i>44</i><b>1972 Robin Reliant Regal 700cc Supervan</b>(Trotters Independent Trading Co.)<br>Top Speed<em>34.02m/s (76mph)</em></div>
<div class="r"><i>49</i><b>2001 Suzuki Liana</b>Top Gear Reasonably-Priced Car<br>(2002–2005)<em>44.71m/s (100mph)</em></div>
<div class="r"><i>51</i><b>2012 Volkswagen Golf Mk7</b><em>62.17m/s (139mph)</em></div>
<div class="r"><i>52</i><b>1963 Aston Martin DB5 (007)</b><em>65.09m/s (145.6mph)</em></div>
<div class="r"><i>55</i><b>2007 MV Agusta F4 R312</b>Fastest Production Motorcycle<em>86.39m/s (193.3mph)</em></div>
<div class="r"><i>57</i><b>2013 Audi RS6</b>Land Speed Record on Ice<em>92.11m/s (206.05mph)</em></div>
<div class="r"><i>64</i><b>2010 Bugatti Veyron Super Sport</b>Fastest Production Car<em>118.11m/s (267.86mph)</em></div>
</div>
<div class="h2" style="margin-top:11px">LAND VEHICLES</div>
<div class="sec">
<div class="r"><i>8</i><b>Laser Boeing Vehicle</b>Driven by Eugene Cernan, 1972<br>Moon Land Speed Record<em>4.96m/s (10.60mph)</em></div>
<div class="r"><i>43</i><b>2002 Scooter Trek</b>Fastest Vehicle Land Speed Record<em>33.8m/s (75.6mph)</em></div>
<div class="r"><i>34</i><b>Sunswift IV</b>Driven by Barton Mawer, 2011<br>Solar Powered Land Speed Record<em>24.67m/s (55.19mph)</em></div>
<div class="r"><i>48</i><b>VeloX 3 Bike</b>Ridden by Sebastiaan Bowier, 2013<br>Human Powered Land Speed Record<em>37.45m/s (83.13mph)</em></div>
<div class="r"><i>50</i><b>Ecotricity Greenbird</b>Driven by Richard Jenkins, 2009<br>Wind Powered Land Speed Record<em>56.27m/s (126.1mph)</em></div>
<div class="r"><i>60</i><b>McLaren MP4-21 (McLaren-Mercedes)</b>Driven by Juan Pablo Montoya, 2005<br>Fastest Speed in a Grand Prix Race<em>103.43m/s (231.4mph)</em></div>
<div class="r"><i>70</i><b>Top Oil-Ack Attack</b>Ridden by Rocky Robinson, 2010<br>Motorcycle Land Speed Record<em>168.23m/s (376.36mph)</em></div>
<div class="r"><i>71</i><b>Vesco Turbinator</b>Driven by Don Vesco, 2001<br>Wheel-Driven Land Speed Record<em>210.5m/s (470.4mph)</em></div>
<div class="r"><i>78</i><b>Thrust SSC</b>Driven by Andy Green, 1997<br>Land Speed Record<em>341.5m/s (763mph)</em></div>
</div>
</div>

<div class="col v2">
<div class="h2">RAIL VEHICLES</div>
<div class="sec">
<div class="r"><i>38</i><b>London Tube Train</b>Top Speed on Metropolitan Line<em>28.16m/s (63mph)</em></div>
<div class="r"><i>53</i><b>Formula Rossa</b>Fastest Roller-coaster<em>67m/s (149.1mph)</em></div>
<div class="r"><i>67</i><b>2007 TGV POS</b>Wheeled Train Record<em>159.58m/s (357mph)</em></div>
<div class="r"><i>68</i><b>2003 MLX01 Japanese Mag-Train</b>Magnetic Levitation Train Record<em>161.39m/s (361mph)</em></div>
<div class="r"><i>74</i><b>Sonic Wind No. 1</b>Ridden by John Stapp, 1954<br>Manned Rocket Sled Record<em>282.47m/s (632mph)</em></div>
</div>
<div class="h2 m">WATERCRAFT</div>
<div class="sec">
<div class="r"><i>13</i><b>Decavitator</b>Sailed by Mark Drela, 1991<br>Fastest Human-Powered Watercraft<em>9.53m/s (21.28mph)</em></div>
<div class="r"><i>42</i><b>Vestas Sailrocket 2</b>Sailed by Paul Larsen, 2012<br>Fastest Wind-Powered Watercraft<em>33.5m/s (74.9mph)</em></div>
<div class="r"><i>45</i><b>2013 360 Sea-Doo</b>Fastest Jet Ski<em>35.76m/s (80mph)</em></div>
<div class="r"><i>46</i><b>1998 World is Not Enough</b>Millennium Super Yacht<br>Fastest Yacht<em>36.01m/s (80.55mph)</em></div>
<div class="r"><i>66</i><b>Spirit of Australia</b>Sailed by Ken Warby, 1978<br>Water Speed Record<em>141.88m/s (317.6mph)</em></div>
</div>
</div>

<div class="col v3">
<div class="h2">AIRCRAFT</div>
<div class="sec">
<div class="r"><i>12</i><b>MIT Monarch B</b>Flown by Frank Scarabino, 1984<br>Fastest Human-Powered Aircraft<em>8.46m/s (18.93mph)</em></div>
<div class="r"><i>54</i><b>1933 Supermarine Spitfire</b><em>72.03m/s (162.21mph)</em></div>
<div class="r"><i>62</i><b>Westland Lynx 800 G-LYNX</b>Flown by John Egginton, 1986<br>Fastest Helicopter<em>111.56m/s (249.1mph)</em></div>
<div class="r"><i>63</i><b>1938 Lancair 200 IV-P Plane</b><em>116.23m/s (260mph)</em></div>
<div class="r"><i>72</i><b>Tupolev Tu-114</b>Flown by Ivan Soukhomline, 1960<br>Fastest Propeller-Driven Aircraft<em>241.46m/s (540mph)</em></div>
<div class="r"><i>73</i><b>2007 Boeing 747-400</b>Most Popular Commercial Airplane<em>254.81m/s (570mph)</em></div>
<div class="r"><i>75</i><b>2003 Northrop Grumman B-2 Spirit</b>Stealth Bomber<em>281.64m/s (630mph)</em></div>
<div class="r"><i>76</i><b>1986 Harrier Jump Jet (GR5/AV-8B)</b><em>326.76m/s (731mph)</em></div>
<div class="r"><i>81</i><b>Concorde</b>Fastest Passenger Plane<em>603m/s (1350mph)</em></div>
<div class="r"><i>83</i><b>Lockheed SR-71 Blackbird</b>Flown by Eldon W. Joersz, 1976<br>Fastest Manned Air-Breathing Craft<em>980.56m/s (2193.2mph)</em></div>
<div class="r"><i>85</i><b>X-15 Rocket Plane</b>Flown by William J. Knight, 1967<br>Fastest Manned Aircraft<em>2020.62m/s (4520mph)</em></div>
<div class="r"><i>87</i><b>2004 NASA X-43 Hypersonic Scramjet Plane</b>Fastest Unmanned Aircraft<em>3374m/s (7546mph)</em></div>
</div>
<div class="h2 m">SPACECRAFT</div>
<div class="sec">
<div class="r"><i>88</i><b>Satellite in Low Earth Orbit</b>Typical Speed<em>7700m/s (17,200mph)</em></div>
<div class="r"><i>90</i><b>Apollo 10</b>Fastest Manned Spacecraft<em>11,082m/s (24,791mph)</em></div>
<div class="r"><i>92</i><b>Stardust Probe</b>Fastest Earth-Reentering Spacecraft<em>12,894m/s (28,856mph)</em></div>
<div class="r"><i>93</i><b>New Horizons Probe</b>Fastest Spacecraft to<br>Outer Part of Solar System<em>16,260m/s (36,373mph)</em></div>
<div class="r"><i>94</i><b>Voyager 1 Probe</b>Exiting the Solar System<em>17,000m/s (38,026mph)</em></div>
<div class="r"><i>96</i><b>Galileo Jupiter Probe</b>Fastest Atmospheric Entry<br>by a Man-Made Object<em>47,800m/s (106,900mph)</em></div>
<div class="r"><i>97</i><b>1976 Helios 2 Solar Probe</b>Fastest Man-Made Object<em>70,220m/s (157,078mph)</em></div>
</div>
</div>

<div class="col oo">
<div class="h2">BALLISTICS</div>
<div class="sec">
<div class="r"><i>58</i><b>VA-111 Shkval Super Torpedo</b>Fastest Torpedo<em>103m/s (230mph)</em></div>
<div class="r"><i>77</i><b>.22 Caliber Long Rifle Bullet</b><em>329m/s (736mph)</em></div>
<div class="r"><i>80</i><b>.44 Caliber Remington Magnum Bullet</b><em>440m/s (1000.3mph)</em></div>
<div class="r"><i>82</i><b>M16 Rifle Bullet</b><em>975m/s (2180mph)</em></div>
<div class="r"><i>86</i><b>BrahMos II Hypersonic Cruise Missile</b><em>1715m/s (3836mph)</em></div>
<div class="r"><i>89</i><b>Enhanced Hyper Velocity Launcher</b>(Super-Gun)<br>Fastest Projectile<em>10,100m/s (22,593mph)</em></div>
</div>
<div class="h2 m">NATURE</div>
<div class="sec">
<div class="r"><i>59</i><b>1999 Cyclone Olivia</b>Fastest Non-Tornado Wind Speed<em>113m/s (253mph)</em></div>
<div class="r"><i>65</i><b>1999 Bridge Creek-Moore Tornado</b>Fastest Recorded Tornado<em>135.6m/s (301mph)</em></div>
<div class="r"><i>77</i><b>Speed of Sound in Standard Atmosphere</b>(15°C and Sea)<em>340.29m/s (761mph)</em></div>
<div class="r"><i>80</i><b>Earth's Rotation at the Equator</b><em>465m/s (1040mph)</em></div>
<div class="r"><i>84</i><b>Speed of Sound in Water</b><em>1500m/s (3355mph)</em></div>
<div class="r"><i>86</i><b>Escape Velocity from the Moon</b><em>2375m/s (5313mph)</em></div>
<div class="r"><i>91</i><b>Escape Velocity from Earth</b><em>11,200m/s (25,053mph)</em></div>
<div class="r"><i>95</i><b>Earth's Orbit Around the Sun</b><em>29,800m/s (66,700mph)</em></div>
</div>
<div class="h2 m">MISC</div>
<div class="sec">
<div class="r"><i>39</i><b>Insane</b>Fastest Water Slide<br>(Also the tallest at 41m)<em>29m/s (65mph)</em></div>
<div class="r"><i>56</i><b>Golf Ball</b>Fastest Recorded Ball in Sports<em>91m/s (204mph)</em></div>
</div>
</div>

<!-- logo -->
<div style="position:absolute;left:943px;top:1553px;width:16px;height:17px;background:#fff"></div>
<div style="position:absolute;left:959px;top:1553px;width:17px;height:17px;background:repeating-linear-gradient(90deg,rgba(255,255,255,.55) 0 1.6px,rgba(255,255,255,.15) 1.6px 3.4px)"></div>
<div style="position:absolute;left:944px;top:1572px;font-size:3.6px;line-height:4px;color:#fbd6ae;white-space:nowrap">signal &nbsp; noise</div>
<div style="position:absolute;left:27px;top:1577px;font-size:3px;line-height:3.5px;color:#231815;white-space:nowrap">© 2013 Signal Noise Ltd. All rights reserved. www.signalnoise.com</div>

</body></html>
